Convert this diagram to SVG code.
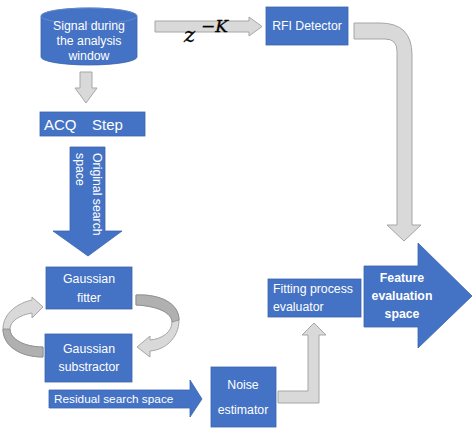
<svg xmlns="http://www.w3.org/2000/svg" width="474" height="447" viewBox="0 0 474 447">
<style>
.blue{fill:#4472c4;stroke:#3a65b0;stroke-width:0.8}
.gray{fill:#d9d9d9;stroke:#a6a6a6;stroke-width:1}
.dark{fill:#b0b0b0;stroke:#8c8c8c;stroke-width:0.8}
.t{font-family:"Liberation Sans",Arial,sans-serif;font-size:12.3px;fill:#ffffff}
.tc{text-anchor:middle}
.b{font-weight:bold}
.m{font-family:"DejaVu Serif","Liberation Serif",serif;font-style:italic;fill:#000000;stroke:#000000;stroke-width:0.35}
</style>
<rect width="474" height="447" fill="#ffffff"/>
<g id="connectors">
  <path class="gray" d="M80,72 L92,72 L92,88 L97,88 L86,103 L75,88 L80,88 Z"/>
  <path class="gray" d="M155,21 L249,21 L249,17 L262,26.5 L249,36 L249,32 L155,32 Z"/>
  <path class="gray" d="M354,23 L380,23 Q412,23 412,55 L412,225 L421,225 L404,241 L387,225 L397,225 L397,51 Q397,39 385,39 L354,39 Z"/>
  <path class="blue" d="M70,147 L105,147 L105,231 L122,231 L88,256 L53,231 L70,231 Z"/>
  <path class="gray" d="M43,357 C20,357 3,346 3,329 C3,313 18,303 32,300 L32,297 L43,307 L32,318 L32,313 C20,315 10,321 10,329 C10,339 24,347 43,347 Z"/>
  <path class="dark" d="M43,357 C20,357 3,346 3,329 L10,329 C10,339 24,347 43,347 Z"/>
  <path class="gray" d="M136,295 C160,294 179,303 179,320 C179,338 165,350 150,351 L150,357 L137,347 L150,336 L150,340 C162,339 172,332 172,322 C172,313 158,306 136,305 Z"/>
  <path class="dark" d="M136,295 C160,294 179,303 179,320 L172,322 C172,313 158,306 136,305 Z"/>
  <path class="blue" d="M49,390 L190,390 L190,380 L202,399 L190,417 L190,408 L49,408 Z"/>
  <path class="gray" d="M278,391 L308,391 L308,335 L302,335 L314,323 L326,335 L319,335 L319,403 L278,403 Z"/>
  <text class="t" transform="translate(93,153) rotate(90)">Original search<tspan x="0" dy="17">space</tspan></text>
  <text class="t" x="54" y="403" style="font-size:11.8px">Residual search space</text>
  <text class="m" x="184" y="42" style="font-size:21px">z</text>
  <text class="m" x="201" y="32" style="font-size:17px">−K</text>
</g>
<g id="signal">
  <path class="blue" d="M41,16 A48,8 0 0 1 137,16 L137,57 A48,8 0 0 1 41,57 Z"/>
  <ellipse cx="89" cy="16" rx="48" ry="8" fill="none" stroke="#6a8fd3" stroke-width="0.8"/>
  <text class="t tc" x="89" y="30">Signal during</text>
  <text class="t tc" x="89" y="45">the analysis</text>
  <text class="t tc" x="89" y="60">window</text>
</g>
<g id="acq">
  <rect class="blue" x="40" y="112" width="105" height="24"/>
  <text class="t" x="44" y="130" style="font-size:15px">ACQ<tspan x="92">Step</tspan></text>
</g>
<g id="rfi">
  <rect class="blue" x="266" y="7" width="82" height="38"/>
  <text class="t tc" x="307" y="30">RFI Detector</text>
</g>
<g id="fitter">
  <rect class="blue" x="46" y="267" width="86" height="42"/>
  <text class="t tc" x="89" y="283">Gaussian</text>
  <text class="t tc" x="89" y="302">fitter</text>
</g>
<g id="substractor">
  <rect class="blue" x="45" y="334" width="87" height="48"/>
  <text class="t tc" x="89" y="353">Gaussian</text>
  <text class="t tc" x="89" y="371">substractor</text>
</g>
<g id="noise">
  <rect class="blue" x="211" y="367" width="65" height="60"/>
  <text class="t tc" x="243" y="389">Noise</text>
  <text class="t tc" x="243" y="414">estimator</text>
</g>
<g id="fitting">
  <rect class="blue" x="268" y="279" width="93" height="38"/>
  <text class="t" x="273" y="293">Fitting process</text>
  <text class="t" x="273" y="311">evaluator</text>
</g>
<g id="feature">
  <path class="blue" d="M364,266 L418,266 L418,243 L472,296 L418,348 L418,327 L364,327 Z"/>
  <text class="t tc b" x="402" y="282">Feature</text>
  <text class="t tc b" x="402" y="300">evaluation</text>
  <text class="t tc b" x="402" y="318">space</text>
</g>
</svg>
